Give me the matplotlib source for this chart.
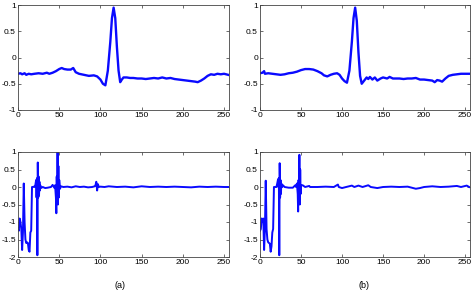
import matplotlib
matplotlib.use("Agg")
import matplotlib.pyplot as plt

plt.rcParams['font.family'] = ['Liberation Sans', 'DejaVu Sans']

# ---- top (a) ----
top_a_x = [0, 3, 5, 8, 10, 13, 16, 20, 25, 30, 35, 38, 42, 46, 50, 53, 56, 60, 64, 67,
           70, 74, 80, 86, 92, 96, 100, 103, 106, 109, 112, 114, 116, 118, 120, 122, 124,
           126, 128, 132, 136, 140, 145, 150, 155, 160, 165, 170, 175, 180, 185, 190, 195,
           200, 205, 210, 215, 218, 222, 226, 230, 234, 238, 242, 246, 250, 255]
top_a_y = [-0.31, -0.30, -0.32, -0.30, -0.33, -0.31, -0.32, -0.31, -0.30, -0.31, -0.29,
           -0.31, -0.29, -0.26, -0.22, -0.20, -0.22, -0.23, -0.23, -0.20, -0.28, -0.31,
           -0.33, -0.35, -0.34, -0.36, -0.42, -0.50, -0.53, -0.25, 0.30, 0.75, 0.95, 0.75,
           0.20, -0.25, -0.47, -0.42, -0.38, -0.38, -0.39, -0.39, -0.40, -0.40, -0.41,
           -0.40, -0.39, -0.40, -0.38, -0.40, -0.39, -0.41, -0.42, -0.43, -0.44, -0.45,
           -0.46, -0.47, -0.44, -0.40, -0.35, -0.32, -0.33, -0.31, -0.32, -0.31, -0.33]

# ---- top (b) ----
top_b_x = [0, 3, 5, 6, 10, 15, 20, 25, 30, 35, 40, 45, 50, 55, 60, 65, 70, 75, 78, 82,
           86, 90, 94, 97, 100, 103, 106, 109, 112, 114, 116, 118, 120, 122, 124, 127, 130,
           132, 134, 137, 140, 143, 147, 150, 155, 158, 162, 166, 170, 175, 180, 185, 190,
           195, 200, 205, 210, 213, 216, 219, 222, 226, 230, 235, 240, 245, 250, 255]
top_b_y = [-0.30, -0.29, -0.26, -0.31, -0.30, -0.31, -0.32, -0.33, -0.32, -0.30, -0.29,
           -0.27, -0.24, -0.22, -0.22, -0.23, -0.26, -0.30, -0.34, -0.36, -0.33, -0.31,
           -0.30, -0.33, -0.40, -0.45, -0.48, -0.25, 0.30, 0.75, 0.95, 0.70, 0.10, -0.35,
           -0.50, -0.44, -0.38, -0.41, -0.37, -0.42, -0.38, -0.44, -0.40, -0.38, -0.40,
           -0.37, -0.40, -0.40, -0.40, -0.41, -0.40, -0.40, -0.39, -0.42, -0.42, -0.43,
           -0.44, -0.47, -0.43, -0.44, -0.46, -0.40, -0.35, -0.33, -0.32, -0.31, -0.31, -0.31]

# ---- bottom (a) ----
bot_a_x = [0, 1, 2, 3, 4, 5, 6, 7, 8, 9, 10, 11, 12, 13, 14, 15, 16, 17, 18, 19, 20, 21,
           22, 22.5, 23, 23.5, 24, 24.5, 25, 25.5, 26, 26.5, 27, 28, 30, 33, 36, 40, 42, 44,
           45, 46, 46.5, 47, 47.5, 48, 48.5, 49, 49.5, 50, 51, 52, 55, 60, 65, 70, 75, 80,
           85, 90, 93, 94, 95, 96, 97, 98, 100, 105, 110, 120, 130, 140, 150, 160, 170, 180,
           190, 200, 210, 220, 230, 240, 250, 255]
bot_a_y = [-1.20, -1.25, -0.90, -1.00, -1.20, -1.80, -1.30, 0.10, -1.00, -1.50, -1.60,
           -1.58, -1.60, -1.80, -1.85, -1.30, -1.25, 0.00, 0.00, 0.01, 0.00, 0.05, 0.20,
           -0.30, 0.25, -1.95, 0.70, -0.30, 0.30, -0.25, 0.15, -0.10, 0.05, -0.03, 0.00,
           -0.03, -0.02, 0.00, 0.06, -0.02, 0.05, -0.30, -0.75, 0.30, -0.40, 1.00, -0.50,
           0.60, -0.30, 0.20, -0.05, 0.02, 0.00, 0.01, -0.01, 0.02, 0.00, 0.01, -0.01, 0.00,
           0.02, 0.05, 0.15, -0.10, 0.08, 0.00, 0.01, 0.00, 0.02, 0.00, 0.01, -0.01, 0.02,
           0.00, 0.01, 0.00, 0.01, 0.00, -0.01, 0.01, 0.00, 0.01, 0.00, 0.00]

# ---- bottom (b) ----
bot_b_x = [0, 1, 2, 3, 4, 5, 6, 7, 8, 9, 10, 11, 12, 13, 14, 15, 16, 17, 18, 20, 21, 22,
           22.5, 23, 23.5, 24, 24.5, 25, 25.5, 26, 27, 28, 30, 35, 40, 43, 44, 45, 46, 46.5,
           47, 47.5, 48, 48.5, 49, 49.5, 50, 52, 55, 60, 61, 70, 80, 90, 95, 96, 100, 105,
           112, 115, 120, 125, 132, 135, 143, 150, 160, 170, 180, 190, 195, 200, 210, 220,
           230, 240, 245, 252, 255]
bot_b_y = [-1.25, -1.20, -0.90, -1.00, -0.90, -1.80, -1.20, 0.18, -1.20, -1.50, -1.58,
           -1.60, -1.62, -1.85, -1.70, -1.30, -1.20, 0.00, 0.00, 0.00, 0.10, 0.22, 0.00,
           0.25, -1.95, 0.68, -0.30, 0.20, -0.20, 0.10, 0.00, 0.05, 0.00, -0.02, -0.02,
           0.05, 0.00, 0.10, -0.20, -0.70, 0.20, -0.40, 0.92, -0.50, 0.50, -0.20, 0.05,
           0.05, 0.00, 0.03, 0.00, 0.00, 0.01, 0.00, 0.07, 0.00, -0.03, 0.00, 0.04, 0.00,
           0.04, 0.00, 0.05, 0.00, -0.03, 0.00, 0.01, 0.00, 0.01, -0.05, -0.03, 0.00, 0.02,
           0.00, 0.01, 0.03, 0.00, 0.04, 0.00]

x_ticks = [0, 50, 100, 150, 200, 250]
top_yticks = [-1, -0.5, 0, 0.5, 1]
top_ylabels = ['-1', '-0.5', '0', '0.5', '1']
bot_yticks = [-2, -1.5, -1, -0.5, 0, 0.5, 1]
bot_ylabels = ['-2', '-1.5', '-1', '-0.5', '0', '0.5', '1']
panel_labels = ['(a)', '(b)']

W, H = 474, 293
fig = plt.figure(figsize=(W / 100, H / 100), dpi=100)

def rect(l, r, t, b):
    return [l / W, 1 - b / H, (r - l) / W, (b - t) / H]

ax_tl = fig.add_axes(rect(18, 229, 5, 110))
ax_tr = fig.add_axes(rect(260, 470, 5, 110))
ax_bl = fig.add_axes(rect(18, 229, 152, 257))
ax_br = fig.add_axes(rect(260, 470, 152, 257))

blue = '#0a0aff'
ax_tl.plot(top_a_x, top_a_y, color=blue, lw=1.7)
ax_tr.plot(top_b_x, top_b_y, color=blue, lw=1.7)
ax_bl.plot(bot_a_x, bot_a_y, color=blue, lw=1.4)
ax_br.plot(bot_b_x, bot_b_y, color=blue, lw=1.4)

for ax, yt, yl, ylim in [(ax_tl, top_yticks, top_ylabels, (-1, 1)),
                         (ax_tr, top_yticks, top_ylabels, (-1, 1)),
                         (ax_bl, bot_yticks, bot_ylabels, (-2, 1)),
                         (ax_br, bot_yticks, bot_ylabels, (-2, 1))]:
    ax.set_xlim(0, 256)
    ax.set_ylim(*ylim)
    ax.set_xticks(x_ticks)
    ax.set_xticklabels([str(t) for t in x_ticks])
    ax.set_yticks(yt)
    ax.set_yticklabels(yl)
    ax.tick_params(direction='in', length=2, width=0.5, labelsize=6, pad=1.5,
                   top=True, right=True, colors='#333333', labelcolor='black')
    for s in ax.spines.values():
        s.set_linewidth(0.6)
        s.set_color('#444444')

fig.text(120 / W, 1 - 286 / H, panel_labels[0], ha='center', va='center', fontsize=6.5)
fig.text(364 / W, 1 - 286 / H, panel_labels[1], ha='center', va='center', fontsize=6.5)

fig.savefig('out.png', dpi=100)
